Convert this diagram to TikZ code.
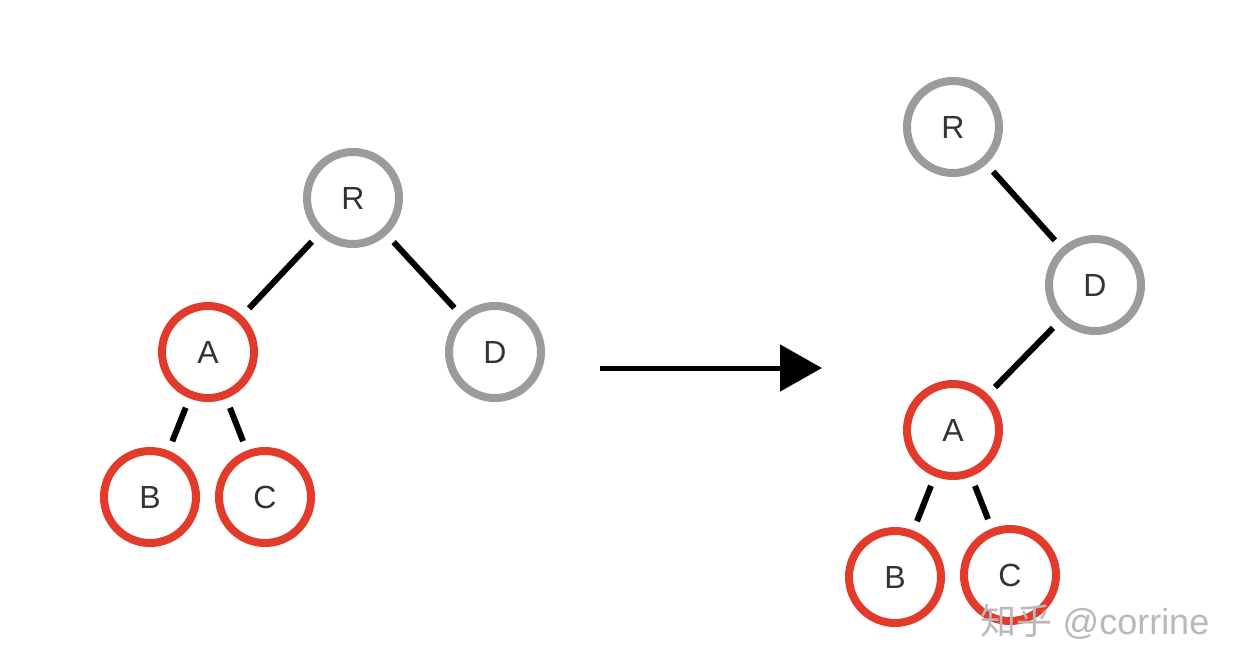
\documentclass[tikz,border=0pt]{standalone}
\usepackage{fontspec}
\setmainfont{Liberation Sans}
\newfontfamily\cjk{Noto Sans CJK SC}
\usetikzlibrary{arrows.meta}
\definecolor{gr}{HTML}{9B9B9B}
\definecolor{rd}{HTML}{E23B2B}
\begin{document}
\begin{tikzpicture}[x=1pt,y=-1pt,
  nd/.style={circle,minimum size=92pt,line width=8pt,draw=#1,inner sep=0pt,font=\fontsize{32}{32}\selectfont,text=black!80},
  ed/.style={line width=6pt,shorten <=10pt,shorten >=10pt}]
\fill[white] (0,0) rectangle (1248,672);
\node[nd=gr] (r1) at (353,198) {R};
\node[nd=rd] (a1) at (208,352) {A};
\node[nd=gr] (d1) at (495,352) {D};
\node[nd=rd] (b1) at (150,497) {B};
\node[nd=rd] (c1) at (265,497) {C};
\draw[ed] (r1)--(a1); \draw[ed] (r1)--(d1);
\draw[ed] (a1)--(b1); \draw[ed] (a1)--(c1);
\node[nd=gr] (r2) at (953,127) {R};
\node[nd=gr] (d2) at (1095,285) {D};
\node[nd=rd] (a2) at (953,430) {A};
\node[nd=rd] (b2) at (895,577) {B};
\node[nd=rd] (c2) at (1010,575) {C};
\draw[ed] (r2)--(d2); \draw[ed] (d2)--(a2);
\draw[ed] (a2)--(b2); \draw[ed] (a2)--(c2);
\coordinate (s) at (600,368); \coordinate (e) at (822,368);
\draw[line width=5pt,-{Triangle[length=42pt,width=46pt]}] (s)--(e);
\node[text=gray!55,font=\fontsize{36}{36}\selectfont] (wm) at (1095,622) {{\cjk 知乎} @corrine};
\end{tikzpicture}
\end{document}
